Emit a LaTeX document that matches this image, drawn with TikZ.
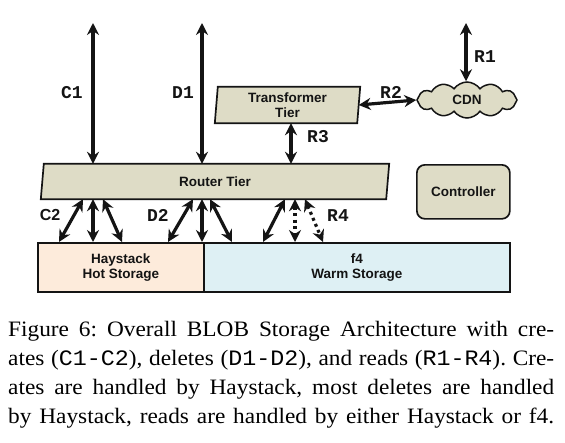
\documentclass[tikz,border=0pt]{standalone}
\usepackage{fontspec}
\setmainfont{Liberation Serif}
\setsansfont{Liberation Sans}
\setmonofont{Liberation Mono}
\newfontfamily\capfont[FakeStretch=1.06]{Liberation Serif}
\newfontfamily\capmono[FakeStretch=1.06]{Liberation Mono}
\usetikzlibrary{arrows.meta,shapes.symbols,backgrounds,calc}
\definecolor{tierfill}{RGB}{222,220,198}
\definecolor{hotfill}{RGB}{253,235,219}
\definecolor{warmfill}{RGB}{222,240,244}
\definecolor{ink}{RGB}{20,20,20}
\begin{document}
\begin{tikzpicture}[x=1pt,y=-1pt,
  boxtext/.style={font=\sffamily\bfseries\fontsize{13.5}{15}\selectfont, align=center, inner sep=0pt, text=ink},
  tierbox/.style={draw=ink, line width=1.7pt, fill=tierfill},
  plainbox/.style={draw=ink, line width=1.7pt},
  dbl/.style={draw=ink, line width=3.2pt, {Stealth[length=12pt, width=12pt, inset=4pt]}-{Stealth[length=12pt, width=12pt, inset=4pt]}},
  dotdbl/.style={dbl, dash pattern=on 3pt off 3.5pt},
  monolab/.style={font=\ttfamily\bfseries\fontsize{18}{20}\selectfont, text=ink, inner sep=0pt},
  sanslab/.style={font=\sffamily\bfseries\fontsize{16}{18}\selectfont, text=ink, inner sep=0pt},
]
\begin{scope}[on background layer]
\fill[white] (0,0) rectangle (565,442);
\end{scope}
\useasboundingbox (0,0) rectangle (565,442);

% nodes
\node[boxtext, minimum width=345pt, minimum height=35pt] (router) at (215,181.5) {Router Tier};
\node[boxtext, minimum width=142pt, minimum height=36pt] (trans) at (287.5,105) {Transformer\\Tier};
\node[boxtext, plainbox, fill=hotfill, minimum width=166pt, minimum height=49pt, anchor=north west] (hay) at (37,242) {Haystack\\Hot Storage};
\node[boxtext, plainbox, fill=warmfill, minimum width=306pt, minimum height=49pt, anchor=north west] (f4) at (203,242) {f4\\Warm Storage};
\node[boxtext, plainbox, fill=tierfill, rounded corners=8pt, minimum width=93pt, minimum height=54pt, anchor=north west] (ctrl) at (416,164) {Controller};
\node[boxtext, cloud, cloud puffs=12, cloud puff arc=110, aspect=2.8, draw=ink, line width=1.5pt, fill=tierfill, minimum width=100pt, minimum height=36pt] (cdn) at (467,100) {CDN};

\begin{scope}[on background layer]
\draw[tierbox] ([xshift=1.5pt]router.north west) -- ([xshift=1.5pt]router.north east)
  -- ([xshift=-1.5pt]router.south east) -- ([xshift=-1.5pt]router.south west) -- cycle;
\draw[tierbox] ([xshift=1.5pt]trans.north west) -- ([xshift=1.5pt]trans.north east)
  -- ([xshift=-1.5pt]trans.south east) -- ([xshift=-1.5pt]trans.south west) -- cycle;
\end{scope}

% free ends
\coordinate (c1top) at (93,23);
\coordinate (d1top) at (202,23);
\coordinate (r1top) at (466,23);

% connectors
\draw[dbl] (c1top) -- (c1top |- router.north);
\draw[dbl] (d1top) -- (d1top |- router.north);
\draw[dbl] (r1top) -- (r1top |- cdn.north);
\draw[dbl] (trans.east) -- (cdn.west);
\draw[dbl] (291,0 |- trans.south) -- (291,0 |- router.north);

\draw[dbl] (83,0 |- router.south) -- (59,0 |- hay.north);
\draw[dbl] (93,0 |- router.south) -- (93,0 |- hay.north);
\draw[dbl] (103,0 |- router.south) -- (122,0 |- hay.north);

\draw[dbl] (193,0 |- router.south) -- (168,0 |- hay.north);
\draw[dbl] (202,0 |- router.south) -- (202,0 |- hay.north);
\draw[dbl] (210,0 |- router.south) -- (232,0 |- f4.north);

\draw[dbl] (285,0 |- router.south) -- (263,0 |- f4.north);
\draw[dotdbl] (295,0 |- router.south) -- (295,0 |- f4.north);
\draw[dotdbl] (305,0 |- router.south) -- (323,0 |- f4.north);

% labels
\node[monolab] (lc1) at (72,93) {C1};
\node[monolab] (ld1) at (183,93) {D1};
\node[monolab] (lr1) at (485,57) {R1};
\node[monolab] (lr2) at (391,92) {R2};
\node[monolab] (lr3) at (318,137) {R3};
\node[monolab] (lr4) at (338,216) {R4};
\node[sanslab] (lc2) at (50,215) {C2};
\node[monolab] (ld2) at (158,215) {D2};

% caption
\node[anchor=north west, inner sep=0pt] (cap) at (8,321) {\parbox{546pt}{\capfont\fontsize{22}{29}\selectfont\frenchspacing\parfillskip=0pt\relax
Figure 6: Overall BLOB Storage Architecture with cre-\linebreak
ates ({\capmono C1-C2}), deletes ({\capmono D1-D2}), and reads ({\capmono R1-R4}). Cre-\linebreak
ates are handled by Haystack, most deletes are handled\linebreak
by Haystack, reads are handled by either Haystack or f4.}};
\end{tikzpicture}
\end{document}
